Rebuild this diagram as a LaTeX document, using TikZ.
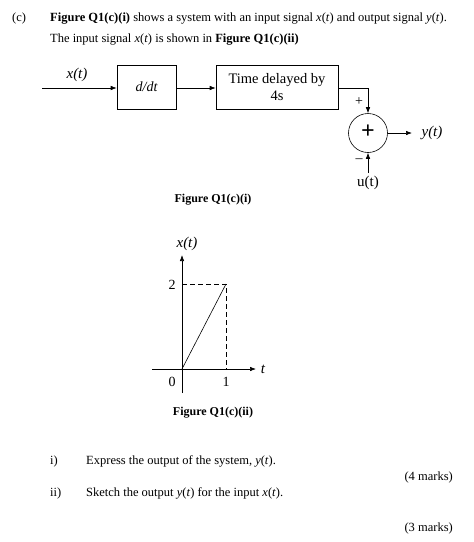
\documentclass[tikz,border=0pt]{standalone}
\usepackage{fontspec}
\setmainfont{Liberation Serif}
\usetikzlibrary{arrows.meta}
\begin{document}
\begin{tikzpicture}[x=1pt,y=-1pt,
  txt/.style={inner sep=0pt,font=\fontsize{12.5}{15}\selectfont},
  lbl/.style={inner sep=0pt,font=\fontsize{15}{17}\selectfont},
  blk/.style={draw,line width=0.6pt,inner sep=0pt},
  con/.style={line width=0.6pt,-{Latex[length=6pt,width=4.5pt]}},
  ln/.style={line width=0.6pt}]
\useasboundingbox (0,0) rectangle (474,542);
% header text
\node[txt,anchor=base west] (c) at (12,21) {(c)};
\node[txt,anchor=base west] (l1) at (50,21) {\textbf{Figure Q1(c)(i)} shows a system with an input signal \textit{x}(\textit{t}) and output signal \textit{y}(\textit{t}).};
\node[txt,anchor=base west] (l2) at (50,42) {The input signal \textit{x}(\textit{t}) is shown in \textbf{Figure Q1(c)(ii)}};
% block diagram
\coordinate (in) at (42,88);
\node[lbl,font=\fontsize{15}{17}\selectfont\itshape] (xl) at (77,75) {x(t)};
\node[blk,minimum width=59pt,minimum height=44pt,font=\fontsize{14}{16}\selectfont\itshape] (d) at (146.5,87) {d/dt};
\node[blk,minimum width=122pt,minimum height=44pt,align=center,font=\fontsize{14.5}{17}\selectfont] (td) at (277,87) {Time delayed by\\4s};
\node[draw,circle,line width=0.6pt,minimum size=39pt,inner sep=0pt] (s) at (368,133) {};
\node[inner sep=0pt,font=\fontsize{24}{24}\selectfont\bfseries] at (368,132) {+};
\coordinate (bend) at (368,88);
\coordinate (uin) at (368,173);
\coordinate (out) at (412,133);
\draw[con] (in) -- (d.west |- in);
\draw[con] (d.east |- in) -- (td.west |- in);
\draw[ln] (td.east |- bend) -- (bend);
\draw[con] (bend) -- (s.north);
\draw[con] (uin) -- (s.south);
\draw[con] (s.east) -- (out);
\node[txt,font=\fontsize{14}{14}\selectfont] (plus) at (359,102) {+};
\node[txt,font=\fontsize{14}{14}\selectfont] (minus) at (359,161) {\textendash};
\node[lbl,font=\fontsize{15}{17}\selectfont\itshape] (yl) at (432,133) {y(t)};
\node[lbl] (ul) at (368,183) {u(t)};
\node[txt,font=\fontsize{12}{14}\selectfont\bfseries] (f1) at (213,200) {Figure Q1(c)(i)};
% graph
\coordinate (O) at (182,369);
\coordinate (P) at (226,284);
\coordinate (ybot) at (182,393);
\coordinate (ytop) at (182,255);
\coordinate (xl0) at (152,369);
\coordinate (xr) at (256,369);
\draw[con] (ybot) -- (ytop);
\draw[con] (xl0) -- (xr);
\draw[ln] (O) -- (P);
\draw[ln,dash pattern=on 5pt off 3pt] (182,284) -- (P) -- (226,369);
\node[lbl,font=\fontsize{15}{17}\selectfont\itshape] (xt) at (187,244) {x(t)};
\node[lbl,font=\fontsize{15}{17}\selectfont\itshape] (tl) at (263,369) {t};
\node[lbl,font=\fontsize{14}{15}\selectfont] (two) at (172,285) {2};
\node[lbl,font=\fontsize{14}{15}\selectfont] (zero) at (172,382) {0};
\node[lbl,font=\fontsize{14}{15}\selectfont] (one) at (226,382) {1};
\node[txt,font=\fontsize{12}{14}\selectfont\bfseries] (f2) at (213,413) {Figure Q1(c)(ii)};
% questions
\node[txt,anchor=base west] (qi) at (50,464) {i)};
\node[txt,anchor=base west] (qit) at (86,464) {Express the output of the system, \textit{y}(\textit{t}).};
\node[txt,anchor=base east] (m4) at (453,480) {(4 marks)};
\node[txt,anchor=base west] (qii) at (50,496) {ii)};
\node[txt,anchor=base west] (qiit) at (86,496) {Sketch the output \textit{y}(\textit{t}) for the input \textit{x}(\textit{t}).};
\node[txt,anchor=base east] (m3) at (453,531) {(3 marks)};
\end{tikzpicture}
\end{document}
